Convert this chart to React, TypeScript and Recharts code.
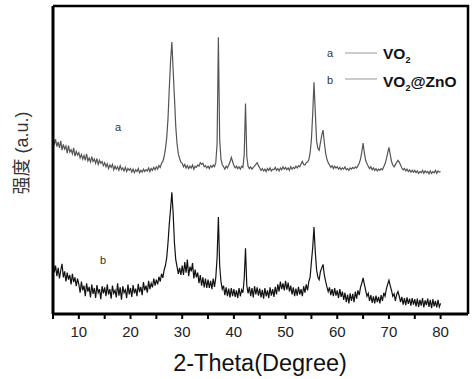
import { LineChart, Line, XAxis, YAxis } from 'recharts'

// 2-theta sampling grid: 5 to 80 degrees, 0.25 degree step
const twoTheta = Array.from({ length: 301 }, (_, i) => 5 + i * 0.25)

// curve a: VO2 (one line per 5 degrees)
const vo2 = [
  3.02, 2.86, 2.96, 2.83, 2.91, 2.81, 2.93, 2.77, 2.87, 2.79, 2.84, 2.72, 2.85, 2.74, 2.78, 2.71, 2.81, 2.67, 2.75, 2.69,
  2.73, 2.64, 2.70, 2.62, 2.68, 2.60, 2.71, 2.59, 2.64, 2.57, 2.66, 2.58, 2.62, 2.55, 2.63, 2.53, 2.60, 2.55, 2.58, 2.51,
  2.56, 2.49, 2.54, 2.46, 2.52, 2.48, 2.53, 2.44, 2.50, 2.45, 2.49, 2.43, 2.51, 2.44, 2.47, 2.42, 2.48, 2.41, 2.46, 2.43,
  2.46, 2.40, 2.45, 2.39, 2.44, 2.41, 2.46, 2.39, 2.43, 2.40, 2.45, 2.41, 2.44, 2.42, 2.47, 2.41, 2.46, 2.43, 2.48, 2.44,
  2.49, 2.45, 2.51, 2.48, 2.55, 2.58, 2.66, 2.79, 2.98, 3.30, 3.82, 4.28, 4.60, 4.12, 3.66, 3.18, 2.88, 2.71, 2.63, 2.57,
  2.55, 2.49, 2.53, 2.47, 2.51, 2.46, 2.50, 2.47, 2.52, 2.45, 2.50, 2.48, 2.52, 2.50, 2.56, 2.53, 2.55, 2.49, 2.51, 2.47,
  2.50, 2.46, 2.51, 2.48, 2.52, 2.49, 2.56, 2.88, 4.68, 2.95, 2.62, 2.53, 2.49, 2.45, 2.50, 2.47, 2.52, 2.57, 2.65, 2.58,
  2.51, 2.47, 2.50, 2.46, 2.49, 2.45, 2.50, 2.48, 2.70, 3.56, 2.66, 2.50, 2.46, 2.49, 2.45, 2.48, 2.50, 2.53, 2.56, 2.51,
  2.47, 2.43, 2.46, 2.42, 2.45, 2.41, 2.46, 2.43, 2.47, 2.42, 2.45, 2.44, 2.48, 2.43, 2.46, 2.42, 2.47, 2.44, 2.49, 2.45,
  2.48, 2.44, 2.47, 2.43, 2.49, 2.45, 2.48, 2.46, 2.50, 2.47, 2.51, 2.49, 2.54, 2.58, 2.53, 2.52, 2.56, 2.57, 2.61, 2.72,
  2.95, 3.38, 3.92, 3.42, 2.93, 2.80, 2.77, 2.90, 3.02, 3.11, 2.90, 2.72, 2.62, 2.56, 2.52, 2.48, 2.51, 2.46, 2.50, 2.47,
  2.49, 2.45, 2.48, 2.44, 2.47, 2.45, 2.49, 2.44, 2.46, 2.43, 2.47, 2.45, 2.48, 2.46, 2.49, 2.47, 2.51, 2.55, 2.62, 2.74,
  2.89, 2.72, 2.60, 2.54, 2.50, 2.46, 2.49, 2.44, 2.47, 2.43, 2.46, 2.42, 2.45, 2.43, 2.46, 2.44, 2.49, 2.54, 2.62, 2.72,
  2.82, 2.70, 2.58, 2.52, 2.49, 2.53, 2.56, 2.60, 2.57, 2.52, 2.47, 2.44, 2.46, 2.42, 2.45, 2.41, 2.44, 2.40, 2.43, 2.40,
  2.43, 2.39, 2.42, 2.38, 2.41, 2.39, 2.43, 2.38, 2.42, 2.39, 2.41, 2.37, 2.42, 2.38, 2.41, 2.39, 2.43, 2.38, 2.42, 2.40, 2.41,
]

// curve b: VO2@ZnO
const vo2ZnO = [
  0.95, 0.70, 0.82, 0.64, 0.78, 0.60, 0.74, 0.85, 0.62, 0.72, 0.55, 0.70, 0.58, 0.66, 0.50, 0.68, 0.54, 0.62, 0.47, 0.60,
  0.50, 0.36, 0.55, 0.40, 0.48, 0.30, 0.52, 0.38, 0.46, 0.28, 0.50, 0.34, 0.44, 0.27, 0.49, 0.36, 0.42, 0.25, 0.47, 0.35,
  0.45, 0.30, 0.50, 0.33, 0.42, 0.26, 0.48, 0.35, 0.40, 0.28, 0.52, 0.31, 0.45, 0.24, 0.47, 0.36, 0.41, 0.27, 0.50, 0.33,
  0.44, 0.29, 0.49, 0.35, 0.43, 0.30, 0.51, 0.37, 0.46, 0.32, 0.54, 0.40, 0.48, 0.36, 0.56, 0.42, 0.52, 0.45, 0.60, 0.48,
  0.58, 0.50, 0.63, 0.55, 0.68, 0.61, 0.74, 0.82, 0.95, 1.20, 1.52, 1.78, 2.06, 1.70, 1.20, 0.92, 0.80, 0.68, 0.78, 0.66,
  0.82, 0.66, 0.88, 0.70, 0.92, 0.64, 0.80, 0.72, 0.86, 0.60, 0.75, 0.62, 0.70, 0.52, 0.66, 0.48, 0.62, 0.45, 0.60, 0.44,
  0.58, 0.44, 0.56, 0.42, 0.60, 0.46, 0.62, 0.95, 1.64, 0.82, 0.55, 0.42, 0.48, 0.32, 0.45, 0.30, 0.43, 0.28, 0.44, 0.30,
  0.42, 0.29, 0.40, 0.27, 0.44, 0.30, 0.41, 0.36, 0.60, 1.11, 0.48, 0.35, 0.46, 0.30, 0.44, 0.28, 0.47, 0.33, 0.45, 0.31,
  0.43, 0.28, 0.41, 0.26, 0.44, 0.30, 0.40, 0.27, 0.45, 0.31, 0.42, 0.29, 0.46, 0.33, 0.50, 0.38, 0.55, 0.42, 0.52, 0.40,
  0.56, 0.41, 0.53, 0.38, 0.48, 0.33, 0.45, 0.30, 0.43, 0.31, 0.46, 0.33, 0.42, 0.30, 0.47, 0.36, 0.50, 0.40, 0.55, 0.62,
  0.88, 1.12, 1.47, 1.05, 0.75, 0.62, 0.58, 0.72, 0.78, 0.84, 0.66, 0.55, 0.46, 0.38, 0.45, 0.32, 0.42, 0.30, 0.44, 0.31,
  0.40, 0.27, 0.42, 0.29, 0.38, 0.24, 0.36, 0.20, 0.33, 0.18, 0.35, 0.22, 0.34, 0.20, 0.38, 0.26, 0.40, 0.32, 0.45, 0.52,
  0.61, 0.50, 0.40, 0.30, 0.35, 0.22, 0.32, 0.19, 0.30, 0.18, 0.31, 0.20, 0.29, 0.18, 0.32, 0.22, 0.36, 0.30, 0.42, 0.50,
  0.57, 0.48, 0.40, 0.30, 0.34, 0.22, 0.33, 0.38, 0.30, 0.20, 0.29, 0.16, 0.27, 0.15, 0.28, 0.17, 0.26, 0.14, 0.27, 0.16,
  0.25, 0.13, 0.26, 0.12, 0.24, 0.14, 0.27, 0.11, 0.23, 0.15, 0.26, 0.12, 0.24, 0.10, 0.25, 0.13, 0.22, 0.11, 0.24, 0.12, 0.18,
]

const xTicks = [5, 10, 15, 20, 25, 30, 35, 40, 45, 50, 55, 60, 65, 70, 75, 80]
const yTicks = [0, 1, 2, 3, 4, 5]

const FONT = 'Arial, "Liberation Sans", "Noto Sans CJK SC", sans-serif'
const frame = { stroke: '#000', strokeWidth: 3 }

export default function App() {
  const data = twoTheta.map((angle, i) => ({ angle, a: vo2[i], b: vo2ZnO[i] }))

  return (
    <div style={{ position: 'fixed', left: 0, top: 0, width: 474, height: 379, background: '#fff', fontFamily: FONT }}>
      <LineChart width={474} height={379} data={data} margin={{ top: 6, right: 6, left: 13, bottom: 25 }}>
        <XAxis
          dataKey="angle"
          type="number"
          domain={[5, 85.3]}
          allowDataOverflow
          ticks={xTicks}
          interval={0}
          height={40}
          tickSize={5}
          tickMargin={7}
          tickFormatter={(v: number) => (v % 10 === 0 ? String(v) : '')}
          tick={{ fontSize: 15, fill: '#222', fontFamily: FONT }}
          axisLine={frame}
          tickLine={{ stroke: '#000', strokeWidth: 2 }}
        />
        <YAxis
          type="number"
          domain={[0, 5.21]}
          allowDataOverflow
          ticks={yTicks}
          width={40}
          tickSize={4}
          tick={false}
          axisLine={frame}
          tickLine={{ stroke: '#000', strokeWidth: 2 }}
        />
        <Line dataKey="a" stroke="#555" strokeWidth={1.2} dot={false} isAnimationActive={false} />
        <Line dataKey="b" stroke="#111" strokeWidth={1.2} dot={false} isAnimationActive={false} />
      </LineChart>
      <svg width={474} height={379} style={{ position: 'absolute', left: 0, top: 0, pointerEvents: 'none' }} fontFamily={FONT}>
        {/* closing top and right edges of the plot frame */}
        <polyline points="53,6 468,6 468,314" fill="none" stroke="#000" strokeWidth={2.5} />
        <text x={22} y={153} transform="rotate(-90 22 153)" textAnchor="middle" dominantBaseline="central" fontSize={18} fill="#333">
          强度 (a.u.)
        </text>
        <text x={260} y={371} textAnchor="middle" fontSize={23.5} fill="#111">2-Theta(Degree)</text>
        <text x={118} y={131} textAnchor="middle" fontSize={11} fill="#333">a</text>
        <text x={103} y={264} textAnchor="middle" fontSize={11} fill="#333">b</text>

        <text x={330} y={57} textAnchor="middle" fontSize={11} fill="#333">a</text>
        <line x1={345} y1={53} x2={377} y2={53} stroke="#999" strokeWidth={1} />
        <text x={383} y={59} fontSize={15.5} fontWeight="bold" fill="#111">
          VO<tspan fontSize={9} dy={4}>2</tspan>
        </text>
        <text x={330} y={84} textAnchor="middle" fontSize={11} fill="#333">b</text>
        <line x1={345} y1={79} x2={377} y2={79} stroke="#999" strokeWidth={1} />
        <text x={383} y={87} fontSize={15.5} fontWeight="bold" fill="#111">
          VO<tspan fontSize={9} dy={4}>2</tspan><tspan dy={-4}>@ZnO</tspan>
        </text>
      </svg>
    </div>
  )
}
